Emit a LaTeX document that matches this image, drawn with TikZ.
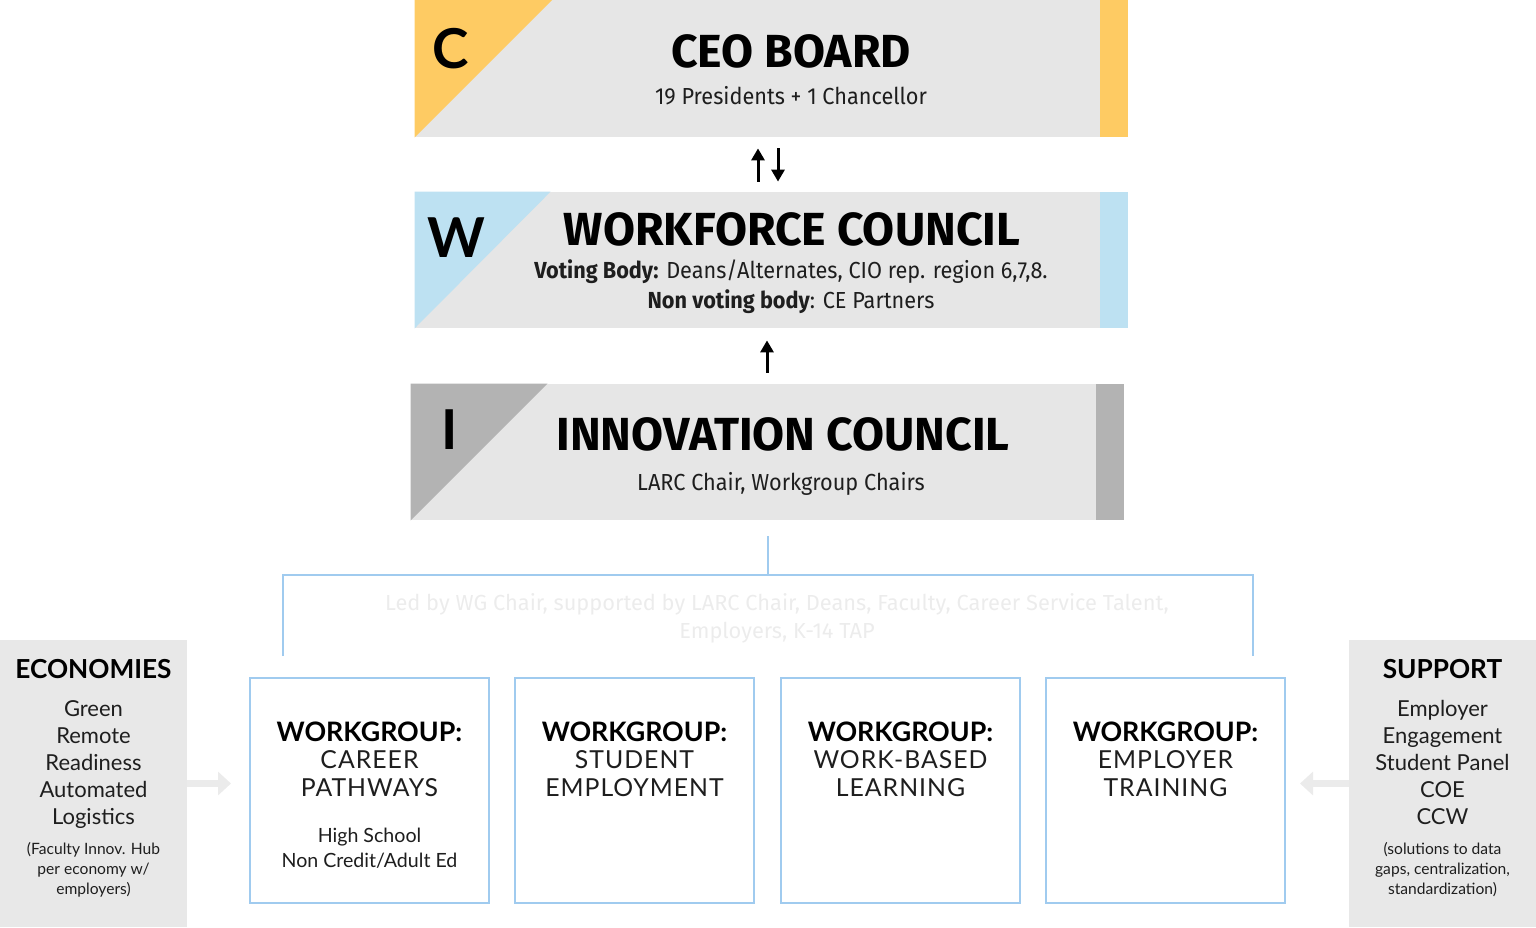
\documentclass[tikz,border=0pt]{standalone}
\usepackage{fontspec}
\setmainfont{Lato}
\newfontfamily\condf[FakeStretch=0.935]{Fira Sans}
\newfontfamily\titlef{Fira Sans}
\newfontfamily\wgf[LetterSpace=4.0]{Lato}
\usetikzlibrary{arrows.meta}
\definecolor{hdrgray}{HTML}{E6E6E6}
\definecolor{yel}{HTML}{FECB63}
\definecolor{blu}{HTML}{BDE1F2}
\definecolor{dgray}{HTML}{B3B3B3}
\definecolor{wgblue}{HTML}{A0CBEF}
\definecolor{sidegray}{HTML}{E8E8E8}
\definecolor{arrowgray}{HTML}{EBEBEB}
\definecolor{lighttext}{HTML}{ECECEC}
\definecolor{textdark}{HTML}{1E1E1E}
\tikzset{
  hdr/.style={rectangle, fill=hdrgray, draw=none, inner sep=0pt, minimum width=356.5pt, minimum height=68pt},
  big/.style={anchor=base, inner sep=0pt, font=\titlef\bfseries\fontsize{23.2}{24}\selectfont},
  subt/.style={anchor=base, inner sep=0pt, text=textdark, font=\condf\fontsize{11.6}{13}\selectfont},
  letter/.style={anchor=base, inner sep=0pt, font=\bfseries\fontsize{27.5}{28}\selectfont},
  wgbox/.style={rectangle, draw=wgblue, line width=1pt, fill=white, inner sep=0pt, minimum width=119.5pt, minimum height=112.5pt},
  wgh/.style={anchor=base, inner sep=0pt, font=\bfseries\fontsize{13.4}{14}\selectfont},
  wgt/.style={anchor=base, inner sep=0pt, text=textdark, font=\wgf\fontsize{12.4}{14}\selectfont},
  wgs/.style={anchor=base, inner sep=0pt, text=textdark, font=\fontsize{9.8}{12}\selectfont},
  side/.style={rectangle, fill=sidegray, draw=none, inner sep=0pt, minimum width=93.5pt, minimum height=143.5pt},
  sideh/.style={anchor=base, inner sep=0pt, font=\bfseries\fontsize{13.1}{14}\selectfont},
  sidet/.style={anchor=base, inner sep=0pt, text=textdark, font=\fontsize{11}{13}\selectfont},
  sides/.style={anchor=base, inner sep=0pt, text=textdark, font=\fontsize{7.8}{10}\selectfont},
  lightt/.style={anchor=base, inner sep=0pt, text=lighttext, font=\titlef\fontsize{10.9}{13}\selectfont},
  blk/.style={line width=1.5pt, -{Triangle[length=6pt,width=6.5pt]}},
  brline/.style={draw=wgblue, line width=1pt},
  garrow/.style={draw=arrowgray, line width=3.5pt, -{Triangle[length=6.5pt,width=11.5pt]}},
}
\begin{document}
\begin{tikzpicture}[x=0.5pt,y=-0.5pt]
\useasboundingbox (0,0) rectangle (1536,927);

% ---------- CEO BOARD ----------
\node[hdr, minimum height=68.5pt] (ceo) at (771.5,68.5) {};
\fill[yel] (ceo.north west) -- ++(138,0) -- (ceo.south west) -- cycle;
\fill[yel] (ceo.north east) rectangle ++(-28,137);
\node[letter] (ceoL) at (451,68) {C};
\node[big] (ceoT) at (791,67) {CEO BOARD};
\node[subt] (ceoS) at (791,104) {19 Presidents + 1 Chancellor};

% ---------- WORKFORCE COUNCIL ----------
\node[hdr] (wf) at (771.5,260) {};
\fill[blu] (wf.north west) -- ++(136,0) -- (wf.south west) -- cycle;
\fill[blu] (wf.north east) rectangle ++(-28,136);
\node[letter] (wfL) at (456,257) {W};
\node[big] (wfT) at (792,245) {WORKFORCE COUNCIL};
\node[subt] (wfS1) at (791,278) {{\bfseries Voting Body:} Deans/Alternates, CIO rep. region 6,7,8.};
\node[subt] (wfS2) at (791,308) {{\bfseries Non voting body}: CE Partners};

% ---------- INNOVATION COUNCIL ----------
\node[hdr] (ic) at (767.5,452) {};
\fill[dgray] (ic.north west) -- ++(137,0) -- (ic.south west) -- cycle;
\fill[dgray] (ic.north east) rectangle ++(-28,136);
\node[letter] (icL) at (450,449) {I};
\node[big] (icT) at (783,450) {INNOVATION COUNCIL};
\node[subt] (icS) at (781,490) {LARC Chair, Workgroup Chairs};

% ---------- arrows between councils ----------
\coordinate (ax1) at (758,0);
\coordinate (ax2) at (778,0);
\coordinate (ax3) at (767,0);
\draw[blk, shorten <=5pt, shorten >=5.5pt] (wf.north -| ax1) -- (ceo.south -| ax1);
\draw[blk, shorten <=5.5pt, shorten >=5pt] (ceo.south -| ax2) -- (wf.north -| ax2);
\draw[blk, shorten <=5.5pt, shorten >=6pt] (ic.north -| ax3) -- (wf.south -| ax3);

% ---------- workgroups ----------
\node[wgbox] (wg1) at (369.5,790.5) {};
\node[wgbox] (wg2) at (634.5,790.5) {};
\node[wgbox] (wg3) at (900.5,790.5) {};
\node[wgbox] (wg4) at (1165.5,790.5) {};

\node[wgh] (wg1h) at (369.5,741) {WORKGROUP:};
\node[wgt] (wg1a) at (369.5,768) {CAREER};
\node[wgt] (wg1b) at (369.5,796) {PATHWAYS};
\node[wgs] (wg1c) at (369.5,842) {High School};
\node[wgs] (wg1d) at (369.5,867) {Non Credit/Adult Ed};

\node[wgh] (wg2h) at (634.5,741) {WORKGROUP:};
\node[wgt] (wg2a) at (634.5,768) {STUDENT};
\node[wgt] (wg2b) at (634.5,796) {EMPLOYMENT};

\node[wgh] (wg3h) at (900.5,741) {WORKGROUP:};
\node[wgt] (wg3a) at (900.5,768) {WORK-BASED};
\node[wgt] (wg3b) at (900.5,796) {LEARNING};

\node[wgh] (wg4h) at (1165.5,741) {WORKGROUP:};
\node[wgt] (wg4a) at (1165.5,768) {EMPLOYER};
\node[wgt] (wg4b) at (1165.5,796) {TRAINING};

% ---------- bracket ----------
\coordinate (bst) at (768,575);
\coordinate (bl) at (283,575);
\coordinate (brr) at (1253,575);
\path (bl |- wg1.north) coordinate (blb);
\path (brr |- wg4.north) coordinate (brb);
\draw[brline] ([yshift=-8pt]ic.south -| bst) -- (bst);
\draw[brline] ([yshift=10.5pt]blb) -- (bl) -- (brr) -- ([yshift=10.5pt]brb);
\node[lightt] (led1) at (777,610) {Led by WG Chair, supported by LARC Chair, Deans, Faculty, Career Service Talent,};
\node[lightt] (led2) at (777,638) {Employers, K-14 TAP};

% ---------- side panels ----------
\node[side] (econ) at (93.5,783.5) {};
\node[sideh] (econh) at (93.5,678) {ECONOMIES};
\node[sidet] (econ1) at (93.5,716) {Green};
\node[sidet] (econ2) at (93.5,743) {Remote};
\node[sidet] (econ3) at (93.5,770) {Readiness};
\node[sidet] (econ4) at (93.5,797) {Automated};
\node[sidet] (econ5) at (93.5,824) {Logistics};
\node[sides] (econ6) at (93.5,854) {(Faculty Innov. Hub};
\node[sides] (econ7) at (93.5,874) {per economy w/};
\node[sides] (econ8) at (93.5,894) {employers)};

\node[side] (sup) at (1442.5,783.5) {};
\node[sideh] (suph) at (1442.5,678) {SUPPORT};
\node[sidet] (sup1) at (1442.5,716) {Employer};
\node[sidet] (sup2) at (1442.5,743) {Engagement};
\node[sidet] (sup3) at (1442.5,770) {Student Panel};
\node[sidet] (sup4) at (1442.5,797) {COE};
\node[sidet] (sup5) at (1442.5,824) {CCW};
\node[sides] (sup6) at (1442.5,854) {(solutions to data};
\node[sides] (sup7) at (1442.5,874) {gaps, centralization,};
\node[sides] (sup8) at (1442.5,894) {standardization)};

\draw[garrow, shorten >=9pt] (econ.east) -- (wg1.west |- econ.east);
\draw[garrow, shorten >=7pt] (sup.west) -- (wg4.east |- sup.west);
\end{tikzpicture}
\end{document}
